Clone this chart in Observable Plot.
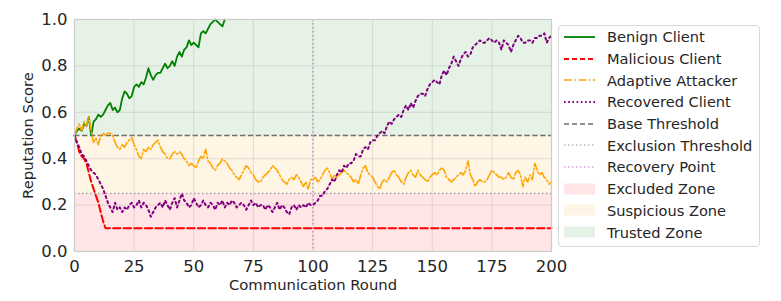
<!DOCTYPE html>
<html>
<head>
<meta charset="utf-8">
<script src="https://cdn.jsdelivr.net/npm/d3@7"></script>
<script src="https://cdn.jsdelivr.net/npm/@observablehq/plot@0.6"></script>
<style>
  html, body { margin: 0; padding: 0; background: #fff; }
  #wrap { position: relative; width: 781px; height: 301px; font-family: "DejaVu Sans", sans-serif; }
  #legend { position: absolute; left: 558px; top: 25px; width: 202px; height: 222px; box-sizing: border-box;
    border: 1px solid #d9d9d9; border-radius: 4px; background: rgba(255,255,255,0.9); padding: 0 0 0 5px; }
  .row { height: 21.7px; display: flex; align-items: center; font-size: 14.6px; color: #262626; white-space: nowrap; }
  .row svg { margin-right: 12px; flex: none; }
  svg text { fill: #262626; }
  g[aria-label="x-axis tick label"], g[aria-label="y-axis tick label"] { font-size: 16.5px !important; }
  g[aria-label="x-axis label"], g[aria-label="y-axis label"] { font-size: 14.8px !important; }
</style>
</head>
<body>
<div id="wrap"><div id="legend"></div></div>
<script>
// ---- data ----
const benign = [0.50,0.52,0.53,0.52,0.55,0.54,0.58,0.50,0.56,0.57,0.59,0.58,0.59,0.61,0.63,0.64,0.61,0.62,0.60,0.61,
0.66,0.69,0.68,0.66,0.67,0.71,0.72,0.71,0.73,0.72,0.75,0.79,0.76,0.74,0.76,0.77,0.77,0.79,0.81,0.79,
0.80,0.82,0.80,0.84,0.86,0.84,0.87,0.88,0.91,0.89,0.90,0.89,0.88,0.94,0.95,0.94,0.96,0.98,0.99,1.00,
0.99,0.98,0.97,1.00];

const maliciousRounds = [0,1,2,3,4,5,6,7,8,9,10,11,12,13,200];
const maliciousValues = [0.50,0.47,0.43,0.41,0.40,0.38,0.34,0.30,0.27,0.24,0.21,0.17,0.13,0.10,0.10];

const adaptive = [0.50,0.53,0.55,0.52,0.56,0.54,0.58,0.52,0.47,0.49,0.46,0.50,0.51,0.50,0.51,0.51,0.50,0.47,0.45,0.44,
0.46,0.45,0.47,0.48,0.49,0.46,0.44,0.41,0.40,0.44,0.43,0.45,0.44,0.46,0.47,0.48,0.45,0.43,0.42,0.40,
0.40,0.42,0.43,0.42,0.43,0.42,0.40,0.39,0.37,0.38,0.37,0.36,0.39,0.41,0.40,0.44,0.39,0.38,0.36,0.35,
0.37,0.38,0.40,0.39,0.38,0.36,0.35,0.33,0.32,0.31,0.33,0.35,0.37,0.36,0.34,0.33,0.31,0.30,0.30,0.32,
0.33,0.34,0.35,0.37,0.36,0.35,0.33,0.31,0.30,0.29,0.31,0.32,0.31,0.33,0.32,0.30,0.28,0.30,0.27,0.31,
0.31,0.32,0.30,0.31,0.33,0.35,0.36,0.34,0.31,0.33,0.32,0.33,0.34,0.35,0.34,0.33,0.32,0.30,0.31,0.29,
0.33,0.36,0.37,0.34,0.33,0.32,0.30,0.28,0.27,0.30,0.31,0.30,0.32,0.34,0.35,0.33,0.32,0.30,0.29,0.32,
0.34,0.35,0.33,0.32,0.35,0.33,0.32,0.31,0.30,0.32,0.33,0.34,0.33,0.35,0.36,0.35,0.32,0.31,0.30,0.31,
0.32,0.33,0.34,0.33,0.35,0.39,0.33,0.31,0.28,0.30,0.31,0.30,0.30,0.31,0.33,0.35,0.34,0.33,0.32,0.32,
0.31,0.32,0.34,0.32,0.31,0.34,0.35,0.33,0.28,0.32,0.30,0.33,0.31,0.38,0.35,0.33,0.34,0.32,0.31,0.29,
0.30];

const recovered = [0.50,0.47,0.45,0.42,0.41,0.39,0.37,0.35,0.34,0.33,0.31,0.29,0.27,0.24,0.21,0.19,0.17,0.21,0.18,0.19,
0.17,0.19,0.18,0.20,0.21,0.19,0.20,0.22,0.19,0.21,0.20,0.18,0.15,0.17,0.19,0.20,0.21,0.19,0.22,0.20,
0.18,0.21,0.23,0.19,0.22,0.25,0.22,0.21,0.19,0.20,0.23,0.21,0.19,0.20,0.22,0.20,0.19,0.21,0.20,0.18,
0.21,0.20,0.22,0.19,0.21,0.20,0.22,0.21,0.19,0.20,0.21,0.20,0.18,0.20,0.22,0.20,0.21,0.19,0.20,0.20,
0.18,0.20,0.19,0.17,0.19,0.21,0.18,0.20,0.19,0.17,0.16,0.19,0.20,0.18,0.20,0.19,0.20,0.19,0.21,0.20,
0.20,0.21,0.22,0.24,0.24,0.26,0.27,0.29,0.31,0.30,0.33,0.35,0.34,0.37,0.36,0.38,0.38,0.39,0.42,0.41,
0.41,0.44,0.45,0.44,0.47,0.48,0.48,0.50,0.51,0.52,0.51,0.54,0.56,0.55,0.57,0.58,0.59,0.58,0.61,0.63,
0.61,0.64,0.62,0.65,0.67,0.68,0.68,0.67,0.70,0.72,0.73,0.74,0.73,0.72,0.76,0.78,0.76,0.79,0.81,0.84,
0.82,0.80,0.83,0.85,0.86,0.84,0.85,0.88,0.89,0.90,0.91,0.90,0.90,0.91,0.92,0.91,0.90,0.91,0.90,0.87,
0.91,0.90,0.89,0.86,0.89,0.91,0.93,0.92,0.90,0.90,0.91,0.91,0.90,0.92,0.92,0.93,0.93,0.94,0.90,0.92,
0.93];

const zoneNames = ["Excluded Zone", "Suspicious Zone", "Trusted Zone"];
const zoneLow = [0, 0.25, 0.5];
const zoneHigh = [0.25, 0.5, 1.0];
const zoneColors = ["#ffe5e5", "#fff5e5", "#e5f2e5"];

const baseThreshold = 0.5;
const exclusionThreshold = 0.25;
const recoveryRound = 100;

const xTicks = [0, 25, 50, 75, 100, 125, 150, 175, 200];
const yTicks = [0, 0.2, 0.4, 0.6, 0.8, 1.0];

// ---- tables ----
const zones = zoneNames.map((n, i) => ({name: n, lo: zoneLow[i], hi: zoneHigh[i], color: zoneColors[i]}));
const benignData = benign.map((v, i) => ({x: i, y: v}));
const maliciousData = maliciousRounds.map((r, i) => ({x: r, y: maliciousValues[i]}));
const adaptiveData = adaptive.map((v, i) => ({x: i, y: v}));
const recoveredData = recovered.map((v, i) => ({x: i, y: v}));

const chart = Plot.plot({
  width: 781, height: 301,
  marginLeft: 74, marginRight: 230, marginTop: 19, marginBottom: 50,
  style: {fontFamily: "DejaVu Sans, sans-serif", fontSize: "16px", color: "#262626", background: "transparent"},
  x: {domain: [0, 200]},
  y: {domain: [0, 1]},
  marks: [
    Plot.rect(zones, {y1: "lo", y2: "hi", fill: "color"}),
    Plot.gridX(xTicks, {stroke: "#b0b0b0", strokeOpacity: 0.35, strokeWidth: 1}),
    Plot.gridY(yTicks, {stroke: "#b0b0b0", strokeOpacity: 0.35, strokeWidth: 1}),
    Plot.axisX(xTicks, {tickSize: 0, tickPadding: 9, fontSize: 16.5, label: null}),
    Plot.axisX({ticks: [], label: "Communication Round", labelAnchor: "center", labelOffset: 38, labelArrow: "none", fontSize: 14.8}),
    Plot.axisY(yTicks, {tickSize: 0, tickPadding: 7, fontSize: 16.5, tickFormat: d3.format(".1f"), label: null}),
    Plot.axisY({ticks: [], label: "Reputation Score", labelAnchor: "center", labelOffset: 52, labelArrow: "none", fontSize: 14.8}),
    Plot.ruleY([baseThreshold], {stroke: "#707070", strokeWidth: 1.5, strokeDasharray: "5.5,2.4"}),
    Plot.ruleY([exclusionThreshold], {stroke: "#a0a0a0", strokeWidth: 1.5, strokeDasharray: "1.5,2.5"}),
    Plot.ruleX([recoveryRound], {stroke: "#c890c8", strokeWidth: 1.5, strokeDasharray: "1.5,2.5"}),
    Plot.line(benignData, {x: "x", y: "y", stroke: "green", strokeWidth: 1.8}),
    Plot.line(maliciousData, {x: "x", y: "y", stroke: "red", strokeWidth: 2, strokeDasharray: "7.4,3.2"}),
    Plot.line(adaptiveData, {x: "x", y: "y", stroke: "orange", strokeWidth: 1.6, strokeDasharray: "9.6,2.4,1.6,2.4"}),
    Plot.line(recoveredData, {x: "x", y: "y", stroke: "purple", strokeWidth: 2, strokeDasharray: "2,3.3"}),
    Plot.frame({stroke: "#cccccc", strokeWidth: 1.2})
  ]
});
document.getElementById("wrap").prepend(chart);
chart.style.position = "absolute"; chart.style.left = "0"; chart.style.top = "0";

// ---- legend ----
const legendItems = [
  {label: "Benign Client", type: "line", stroke: "green", dash: null, w: 1.8},
  {label: "Malicious Client", type: "line", stroke: "red", dash: "5,3", w: 1.8},
  {label: "Adaptive Attacker", type: "line", stroke: "orange", dash: "8,2.4,1.6,2.4", w: 1.6},
  {label: "Recovered Client", type: "line", stroke: "purple", dash: "1.6,2.6", w: 1.8},
  {label: "Base Threshold", type: "line", stroke: "#707070", dash: "5,3", w: 1.5},
  {label: "Exclusion Threshold", type: "line", stroke: "#b8b8b8", dash: "1.5,2.5", w: 1.5},
  {label: "Recovery Point", type: "line", stroke: "#d8a0d8", dash: "1.5,2.5", w: 1.5},
  ...zones.map(z => ({label: z.name, type: "rect", fill: z.color}))
];
const legend = document.getElementById("legend");
for (const it of legendItems) {
  const row = document.createElement("div");
  row.className = "row";
  const sw = it.type === "line"
    ? `<svg width="31" height="12"><line x1="0" x2="31" y1="6" y2="6" stroke="${it.stroke}" stroke-width="${it.w}" ${it.dash ? `stroke-dasharray="${it.dash}"` : ""}/></svg>`
    : `<svg width="31" height="12"><rect x="0" y="0.5" width="31" height="11" fill="${it.fill}"/></svg>`;
  row.innerHTML = sw + `<span>${it.label}</span>`;
  legend.appendChild(row);
}
</script>
</body>
</html>
